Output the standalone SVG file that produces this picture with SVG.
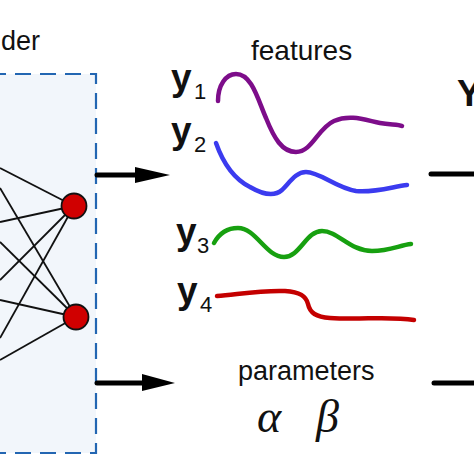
<svg xmlns="http://www.w3.org/2000/svg" width="474" height="474" viewBox="0 0 474 474">
<style>
.lbl{font-family:"Liberation Sans",Arial,sans-serif;font-size:28px;fill:#111}
.yv{font-family:"Liberation Sans",Arial,sans-serif;font-size:37px;font-weight:bold;fill:#111}
.sub{font-family:"Liberation Sans",Arial,sans-serif;font-size:22px;fill:#111}
.gr{font-family:"Liberation Serif","Times New Roman",serif;font-style:italic;font-size:46px;fill:#111}
.edge{stroke:#111;stroke-width:1.8;fill:none}
.neuron{fill:#d00000;stroke:#111;stroke-width:1.8}
.curve{fill:none;stroke-width:4.5;stroke-linecap:round;stroke-linejoin:round}
.shaft{stroke:#000;stroke-width:5;stroke-linecap:round;fill:none}
</style>
<rect width="474" height="474" fill="#fff"/>
<g id="encoder">
<rect x="-10" y="74" width="106" height="379" fill="#f2f6fb" stroke="#2366b2" stroke-width="2.2" stroke-dasharray="16 9"/>
<text class="lbl" x="1" y="50" style="font-size:27px">der</text>
<g id="edges">
<line class="edge" x1="0" y1="168" x2="74" y2="206"/>
<line class="edge" x1="0" y1="222" x2="74" y2="206"/>
<line class="edge" x1="0" y1="280" x2="74" y2="206"/>
<line class="edge" x1="0" y1="338" x2="74" y2="206"/>
<line class="edge" x1="0" y1="188" x2="76" y2="317"/>
<line class="edge" x1="0" y1="242" x2="76" y2="317"/>
<line class="edge" x1="0" y1="300" x2="76" y2="317"/>
<line class="edge" x1="0" y1="360" x2="76" y2="317"/>
</g>
<g id="node1"><circle class="neuron" cx="74" cy="206" r="12.5"/></g>
<g id="node2"><circle class="neuron" cx="76" cy="317" r="12.5"/></g>
</g>
<g id="connectors">
<line class="shaft" x1="97" y1="175" x2="140" y2="175"/>
<polygon points="135,167 170,175 135,183" fill="#000"/>
<line class="shaft" x1="97" y1="383" x2="146" y2="383"/>
<polygon points="142,374 175,383 142,391" fill="#000"/>
<line class="shaft" x1="431" y1="174" x2="478" y2="174"/>
<line class="shaft" x1="434" y1="383" x2="478" y2="383"/>
</g>
<g id="features">
<text class="lbl" x="251" y="60">features</text>
<g id="y1">
<text class="yv" x="171" y="90">y</text><text class="sub" x="194" y="99">1</text>
<path class="curve" stroke="#7d0d8a" d="M218,101 C218,85 226,74 236,74 C252,74 258,100 266,118 C274,138 282,152 296,152 C312,152 318,128 334,121 C350,114 365,120 380,123 C390,125 398,124 402,126"/>
</g>
<g id="y2">
<text class="yv" x="171" y="143">y</text><text class="sub" x="194" y="152">2</text>
<path class="curve" stroke="#3b3bef" d="M216,143 C222,160 232,178 250,187 C262,194 274,197 282,190 C290,182 296,172 306,172 C320,172 336,188 356,191 C375,193 395,186 407,185"/>
</g>
<g id="y3">
<text class="yv" x="176" y="244">y</text><text class="sub" x="197" y="253">3</text>
<path class="curve" stroke="#17a010" d="M214,243 C220,232 228,228 238,228 C256,228 266,257 284,257 C300,257 306,231 322,231 C338,231 350,251 372,251 C390,251 400,245 411,244"/>
</g>
<g id="y4">
<text class="yv" x="177" y="303">y</text><text class="sub" x="200" y="312">4</text>
<path class="curve" stroke="#c40000" d="M217,296 C240,294 262,290 285,291 C300,292 306,296 308,304 C310,313 316,317 330,318 C360,320 390,316 414,320"/>
</g>
</g>
<g id="parameters">
<text class="lbl" x="238" y="380" style="font-size:27px">parameters</text>
<text class="gr" x="257" y="432">α</text>
<text class="gr" x="316" y="432">β</text>
</g>
<g id="output">
<text class="yv" x="457" y="106" style="font-size:37px">Y</text>
</g>
</svg>
